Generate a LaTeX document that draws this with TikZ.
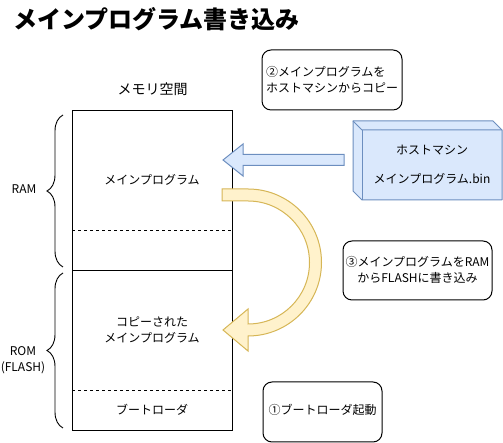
\documentclass[tikz,border=0pt]{standalone}
\usepackage{fontspec}
\setmainfont{Noto Sans CJK JP}
\usetikzlibrary{decorations.pathreplacing}
\definecolor{bluefill}{HTML}{DAE8FC}
\definecolor{bluestroke}{HTML}{6C8EBF}
\definecolor{yelfill}{HTML}{FFF2CC}
\definecolor{yelstroke}{HTML}{D6B656}
\tikzset{
  txt/.style={font=\fontsize{12}{16}\selectfont, inner sep=0pt, align=center},
  membox/.style={draw=black, line width=1pt, minimum width=160pt, inner sep=0pt},
  notebox/.style={draw=black, line width=1pt, rounded corners=9pt, inner sep=0pt},
  sep/.style={line width=0.8pt, dash pattern=on 3pt off 3pt},
  bracestyle/.style={line width=0.9pt, decorate, decoration={brace, amplitude=16pt}},
  bluearrow/.style={fill=bluefill, draw=bluestroke, line width=1pt, line join=miter},
  yelarrow/.style={fill=yelfill, draw=yelstroke, line width=1pt, line join=miter},
}
\begin{document}
\begin{tikzpicture}[x=1pt,y=1pt]
\useasboundingbox (0,0) rectangle (503,443);
% title
\node[anchor=west, inner sep=0pt, font=\fontsize{24}{28}\selectfont\bfseries] (title) at (13,424) {メインプログラム書き込み};
% memory space label
\node[txt, font=\fontsize{14}{18}\selectfont] (memlabel) at (152.5,354) {メモリ空間};
% memory regions
\node[membox, minimum height=160pt, anchor=north west] (ram) at (72,333) {};
\node[membox, minimum height=160pt, anchor=north west] (rom) at (72,173) {};
\coordinate (d1a) at (72,213); \coordinate (d1b) at (232,213);
\coordinate (d2a) at (72,53); \coordinate (d2b) at (232,53);
\draw[sep] (d1a) -- (d1b);
\draw[sep] (d2a) -- (d2b);
\node[txt] (mainprog) at (152,263) {メインプログラム};
\node[txt] (copied) at (152,113) {コピーされた\\メインプログラム};
\node[txt] (boot) at (152,33) {ブートローダ};
% braces
\coordinate (rb1) at (63,176); \coordinate (rt1) at (63,328);
\coordinate (rb2) at (63,15); \coordinate (rt2) at (63,170);
\draw[bracestyle] (rb1) -- (rt1);
\draw[bracestyle] (rb2) -- (rt2);
\node[txt] (ramlabel) at (24,254) {RAM};
\node[txt] (romlabel) at (23,83) {ROM\\(FLASH)};
% note 2
\draw[notebox] (262,333) rectangle (402,393);
\node[txt, anchor=west, align=left] (note2) at (266,363) {②メインプログラムを\\ホストマシンからコピー};
% host machine cube
\draw[fill=bluefill, draw=bluestroke, line width=1pt, line join=round]
  (353,322) -- (493,322) -- (502,313) -- (502,243) -- (362,243) -- (353,252) -- cycle;
\draw[draw=bluestroke, line width=1pt] (353,322) -- (362,313) -- (502,313);
\draw[draw=bluestroke, line width=1pt] (362,313) -- (362,243);
\node[txt] (host) at (432,293) {ホストマシン};
\node[txt] (hostbin) at (432,264) {メインプログラム.bin};
% blue arrow
\draw[bluearrow] (344,288.5) -- (243,288.5) -- (243,299) -- (223,283) -- (243,267) -- (243,277.5) -- (344,277.5) -- cycle;
% yellow curved arrow
\draw[yelarrow] (222,254) -- (248,254) arc[start angle=90, end angle=-90, radius=73.5]
  -- (248,92) -- (223,113) -- (248,134) -- (248,119)
  arc[start angle=-90, end angle=90, radius=61.5] -- (222,242) -- cycle;
% note 3
\draw[notebox] (343,202) rectangle (492,143);
\node[txt] (note3) at (417.5,173) {③メインプログラムをRAM\\からFLASHに書き込み};
% note 1
\draw[notebox] (263,61) rectangle (382,1);
\node[txt] (note1) at (322.5,33) {①ブートローダ起動};
\end{tikzpicture}
\end{document}
